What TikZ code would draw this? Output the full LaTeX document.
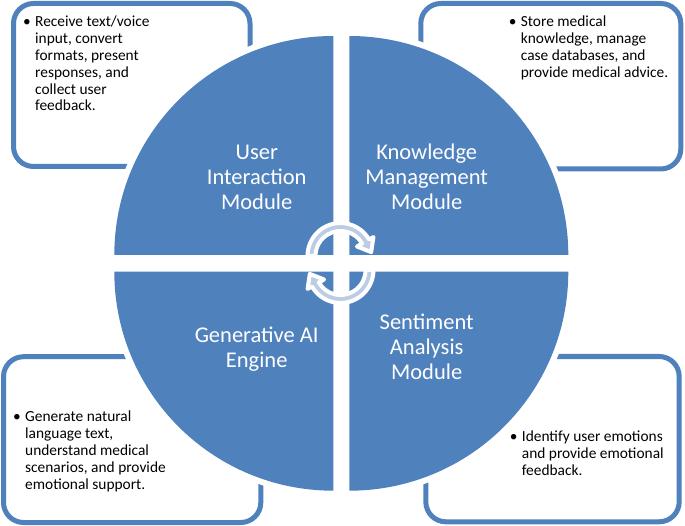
\documentclass[tikz,border=0pt]{standalone}
\usepackage{fontspec}
\setmainfont{Carlito}
\usetikzlibrary{calc}
\definecolor{accent}{RGB}{79,129,189}
\definecolor{arrowpale}{RGB}{188,204,229}
\newcommand{\bulletpar}[2]{\parbox[t]{#1}{\raggedright\leftskip=12pt\leavevmode\llap{\makebox[12pt][l]{\textbullet}}#2}}
\begin{document}
\begin{tikzpicture}[x=1pt,y=1pt,
  infobox/.style={draw=accent, line width=5pt, rounded corners=20pt, fill=white, inner sep=0pt, outer sep=0pt},
  quad/.style={fill=accent},
  halo/.style={fill=white},
  lbl/.style={text=white, font=\fontsize{22.5}{25}\selectfont, align=center, inner sep=0pt},
  desc/.style={text=black, font=\fontsize{15.4}{16.9}\selectfont, inner sep=0pt, anchor=base west},
  cyc/.style={fill=arrowpale, draw=white, line width=4pt, line join=round}]
\useasboundingbox (0,0) rectangle (685,-526);

% corner boxes
\node[infobox, minimum width=236.5pt, minimum height=163pt] (boxTL) at (131.75,-85) {};
\node[infobox, minimum width=260pt, minimum height=165.5pt] (boxTR) at (550.8,-86.25) {};
\node[infobox, minimum width=257.3pt, minimum height=165.8pt] (boxBL) at (132.15,-439.6) {};
\node[infobox, minimum width=253.4pt, minimum height=165.3pt] (boxBR) at (552.5,-439.15) {};

% white halos around quadrants
\fill[halo] (333.3,-255) -- ++(-225,0) arc[start angle=180,end angle=90,radius=225] -- cycle;
\fill[halo] (349.3,-255) -- ++(0,225) arc[start angle=90,end angle=0,radius=225] -- cycle;
\fill[halo] (333.3,-271.7) -- ++(0,-225) arc[start angle=270,end angle=180,radius=225] -- cycle;
\fill[halo] (349.3,-271.7) -- ++(225,0) arc[start angle=0,end angle=-90,radius=225] -- cycle;

% quadrants
\fill[quad] (333.3,-255) -- ++(-219,0) arc[start angle=180,end angle=90,radius=219] -- cycle;
\fill[quad] (349.3,-255) -- ++(0,219) arc[start angle=90,end angle=0,radius=219] -- cycle;
\fill[quad] (333.3,-271.7) -- ++(0,-219) arc[start angle=270,end angle=180,radius=219] -- cycle;
\fill[quad] (349.3,-271.7) -- ++(219,0) arc[start angle=0,end angle=-90,radius=219] -- cycle;

% quadrant labels
\node[lbl] (lblTL) at (256.7,-177) {User\\Interaction\\Module};
\node[lbl] (lblTR) at (426.7,-177) {Knowledge\\Management\\Module};
\node[lbl] (lblBL) at (256.7,-349.5) {Generative AI\\Engine};
\node[lbl] (lblBR) at (426.7,-347) {Sentiment\\Analysis\\Module};

% descriptions
\node[desc] (txtTL) at (23,-26.5) {\bulletpar{220pt}{Receive text/voice\\input, convert\\formats, present\\responses, and\\collect user\\feedback.}};
\node[desc] (txtTR) at (508.7,-26.5) {\bulletpar{170pt}{Store medical\\knowledge, manage\\case databases, and\\provide medical advice.}};
\node[desc] (txtBL) at (13,-421.7) {\bulletpar{220pt}{Generate natural\\language text,\\understand medical\\scenarios, and provide\\emotional support.}};
\node[desc] (txtBR) at (509.7,-441.7) {\bulletpar{170pt}{Identify user emotions\\and provide emotional\\feedback.}};

% cycle arrows
\coordinate (O1) at (340.5,-256);
\coordinate (O2) at (340.5,-270);
\filldraw[cyc] ($(O1)+(180:33)$) arc[start angle=180,end angle=30,radius=33]
  -- ($(O1)+(30:38)$) -- ($(O1)+(30.7,3.9)$) -- ($(O1)+(30:19)$) -- ($(O1)+(30:25)$)
  arc[start angle=30,end angle=180,radius=25] -- cycle;
\filldraw[cyc] ($(O2)+(0:33)$) arc[start angle=0,end angle=-150,radius=33]
  -- ($(O2)+(-150:38)$) -- ($(O2)+(-30.7,-3.9)$) -- ($(O2)+(-150:19)$) -- ($(O2)+(-150:25)$)
  arc[start angle=-150,end angle=0,radius=25] -- cycle;
\end{tikzpicture}
\end{document}
